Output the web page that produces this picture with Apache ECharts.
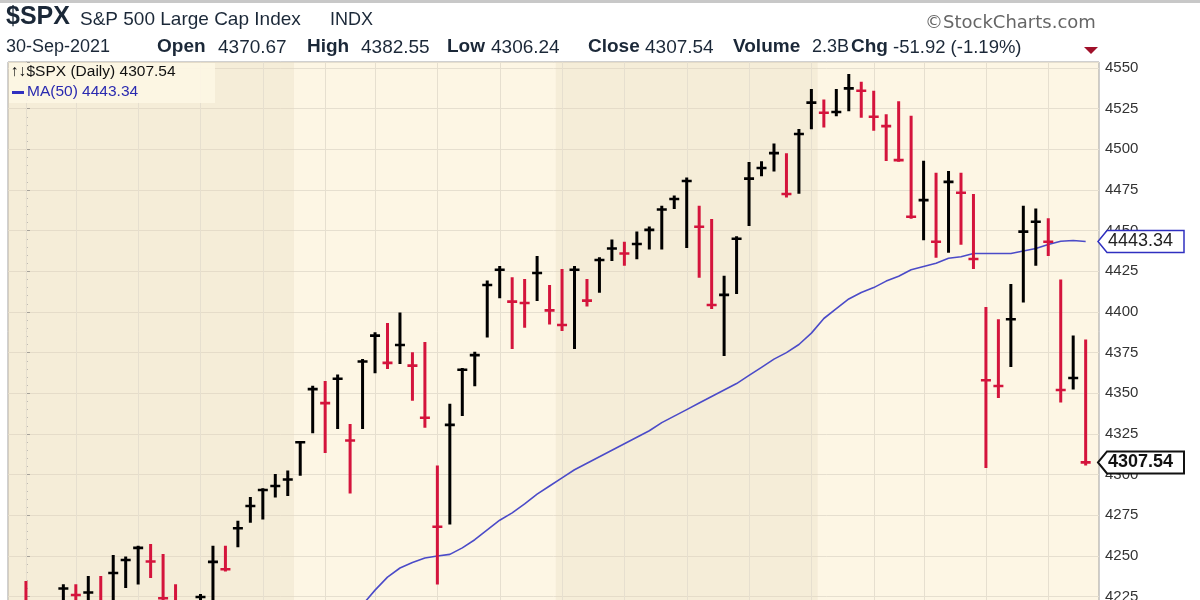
<!DOCTYPE html>
<html><head><meta charset="utf-8">
<script src="https://cdn.jsdelivr.net/npm/echarts@6/dist/echarts.min.js"></script>
<style>html,body{margin:0;padding:0;background:#fff}#c{width:1200px;height:600px}</style>
</head><body><div id="c"></div>
<script>
const dates = ['1-Jun','2-Jun','3-Jun','4-Jun','7-Jun','8-Jun','9-Jun','10-Jun','11-Jun','14-Jun','15-Jun','16-Jun','17-Jun','18-Jun','21-Jun','22-Jun','23-Jun','24-Jun','25-Jun','28-Jun','29-Jun','30-Jun',
'1-Jul','2-Jul','6-Jul','7-Jul','8-Jul','9-Jul','12-Jul','13-Jul','14-Jul','15-Jul','16-Jul','19-Jul','20-Jul','21-Jul','22-Jul','23-Jul','26-Jul','27-Jul','28-Jul','29-Jul','30-Jul',
'2-Aug','3-Aug','4-Aug','5-Aug','6-Aug','9-Aug','10-Aug','11-Aug','12-Aug','13-Aug','16-Aug','17-Aug','18-Aug','19-Aug','20-Aug','23-Aug','24-Aug','25-Aug','26-Aug','27-Aug','30-Aug','31-Aug',
'1-Sep','2-Sep','3-Sep','7-Sep','8-Sep','9-Sep','10-Sep','13-Sep','14-Sep','15-Sep','16-Sep','17-Sep','20-Sep','21-Sep','22-Sep','23-Sep','24-Sep','27-Sep','28-Sep','29-Sep','30-Sep'];
const highs = [4234,4217,4198,4232,4232,4237,4237,4250,4249,4255.7,4256.7,4250.6,4232,4204,4226,4255.7,4255.7,4271,4285.6,4291,4299.8,4302,
4320,4354,4357,4361,4330.5,4370.5,4387,4392.6,4399,4374.7,4381,4305,4343,4365,4375,4418.7,4427.6,4420.8,4419.7,4433.8,4416,
4425.8,4427.6,4419.7,4433,4444,4442.6,4448.8,4452,4464.7,4471,4482,4464.7,4456.6,4421.7,4446,4491.6,4492,4503,4497,4511.9,4536.5,4530,
4536.5,4545.7,4541,4535.4,4521,4529,4520,4492.4,4485,4486,4485,4472,4402.5,4395,4416.6,4464.7,4463,4457,4419.3,4385,4382.55];
const lows = [4197,4198,4173,4206,4215,4210,4218,4222,4231,4233,4237,4202,4196,4164,4174,4217,4241,4256,4271,4273,4286.5,4287.5,
4300,4326,4314,4328.7,4289,4328.7,4363,4365.6,4368.6,4346,4329.5,4233,4270,4336.7,4355,4385,4409,4377.8,4391,4407.4,4393,
4389,4377.8,4404,4412.5,4432,4429,4433,4439,4439,4464,4440,4421.7,4402.5,4373.6,4411.7,4453.5,4484,4487,4471,4473.3,4513,4514,
4521,4524,4520,4512,4493.4,4493,4458,4444.7,4434,4437,4442,4427,4304.7,4347.7,4366.8,4406.4,4429,4435,4345,4353,4306.24];
const closes = [4202,4208,4192,4230,4226,4227.5,4219.5,4239.5,4247.5,4255,4246.6,4224,4221.9,4166,4224.8,4246.4,4241.8,4267,4280.7,4290.6,4293,4297,
4319.9,4352.6,4344,4359,4321,4369.6,4385.5,4368.7,4379.7,4367,4335,4268,4330.6,4364.5,4373.5,4416.6,4426,4406.4,4405.5,4424,4401,
4392,4426,4407,4432,4439,4436,4441.8,4450.5,4463,4469.5,4480.5,4452.4,4404.3,4410.5,4445,4482,4488.5,4497.7,4472.5,4509.4,4528.7,4522.5,
4523,4537.5,4536,4520,4514.3,4493.4,4458.6,4468.8,4443.2,4480,4473.3,4432.6,4358,4354.5,4395.5,4449.4,4455.5,4443.2,4352,4359.4,4307.54];
const prevClose0 = 4204.1;
const ma50 = [null,null,null,null,null,null,null,null,null,null,null,null,null,null,null,null,null,null,null,null,null,null,
null,null,null,null,4216,4220,4229,4237,4242.6,4246,4248.8,4250,4251,4255,4260,4266,4272,4276.5,4282,4288,4293,
4298,4303,4307,4311,4315,4319,4323,4327,4332,4336,4340,4344,4348,4352,4356,4361,4366,4371,4375,4380,4387,4396,
4402,4408,4412,4415,4419,4422,4426,4428,4430,4433,4434,4436,4436,4436,4436,4437.5,4439,4441.5,4443.5,4444,4443.34];
const weekStarts = [0,4,9,14,19,24,28,33,38,43,48,53,58,63,68,72,77,82];
const monthsDark = [[-2,21.5],[42.5,63.5]];
const yTicks = {min:4200, max:4553.7, interval:25};

const N = dates.length;
const bars = dates.map((d,i)=>[i,highs[i],lows[i],closes[i],closes[i] < (i?closes[i-1]:prevClose0)?1:0]);

const chart = echarts.init(document.getElementById('c'));
chart.setOption({
  animation:false,
  backgroundColor:'#fff',
  grid:{left:8,right:101,top:62,height:575.3,outerBoundsMode:'none',containLabel:false,show:true,backgroundColor:'#fdf6e4',borderColor:'#a0a0a0',borderWidth:1},
  xAxis:{type:'value',min:-1.44,max:86.07,axisLabel:{show:false},axisTick:{show:false},axisLine:{show:false},splitLine:{show:false}},
  yAxis:{type:'value',position:'right',min:yTicks.min,max:yTicks.max,interval:yTicks.interval,
    axisLine:{show:true,lineStyle:{color:'#a0a0a0'}},
    axisTick:{show:true,length:4,lineStyle:{color:'#888'}},
    minorTick:{show:true,splitNumber:5,length:2,lineStyle:{color:'#aaa'}},
    axisLabel:{color:'#333',fontSize:15,fontFamily:'Liberation Sans',margin:6,showMaxLabel:false,
      formatter:v=> (v>4550?'':String(v))},
    splitLine:{show:true,lineStyle:{color:'#e6dfcf',width:1}}},
  series:[
    {type:'line',data:[],z:0,markArea:{silent:true,itemStyle:{color:'rgba(230,215,190,0.3)'},
      data:monthsDark.map(m=>[{xAxis:m[0]},{xAxis:m[1]}])}},
    {type:'custom',z:1,clip:true,silent:true,data:weekStarts.map(w=>[w]),encode:{x:0},
     renderItem:(params,api)=>{
       const p=api.coord([api.value(0),yTicks.max]);
       const cs=params.coordSys;
       return {type:'line',shape:{x1:Math.round(p[0])+0.5,y1:cs.y,x2:Math.round(p[0])+0.5,y2:cs.y+cs.height},style:{stroke:'#e6dfcf',lineWidth:1}};
     }},
    {type:'line',data:ma50.map((v,i)=>[i,v]),showSymbol:false,symbol:'none',clip:true,
     lineStyle:{color:'#4b4bc8',width:1.6},z:3},
    {type:'custom',clip:true,z:4,data:bars,encode:{x:0,y:[1,2,3]},
     renderItem:(params,api)=>{
       const x=api.value(0);
       const pH=api.coord([x,api.value(1)]), pL=api.coord([x,api.value(2)]), pC=api.coord([x,api.value(3)]);
       const col=api.value(4)?'#d4143c':'#000';
       return {type:'group',children:[
         {type:'rect',shape:{x:pH[0]-1.5,y:pH[1]-1,width:3,height:pL[1]-pH[1]+2},style:{fill:col}},
         {type:'rect',shape:{x:pC[0]-5,y:pC[1]-1.3,width:10,height:2.6},style:{fill:col}}
       ]};
     }}
  ]
});

const yMA = chart.convertToPixel({yAxisIndex:0}, ma50[N-1]);
const yC = chart.convertToPixel({yAxisIndex:0}, closes[N-1]);
const hdr='#1b2838';
const F='Liberation Sans';
const t=(x,y,s,fs,fw,col,ff)=>({type:'text',left:x,top:y,style:{text:s,font:`${fw||'normal'} ${fs}px ${ff||F}`,fill:col||hdr},z:10});
function badge(y,txt,border,bold){
  const x0=1098;
  return [{type:'polygon',shape:{points:[[x0,y],[x0+9,y-11],[x0+86,y-11],[x0+86,y+11],[x0+9,y+11]]},
    style:{fill:'#fff',stroke:border,lineWidth:bold?2:1.5},z:11},
    {type:'text',x:x0+10,y:y,style:{text:txt,font:`${bold?'bold':'normal'} 18px ${F}`,fill:bold?'#111':'#222',verticalAlign:'middle'},z:12}];
}
chart.setOption({graphic:[
  {type:'rect',shape:{x:0,y:0,width:1200,height:3},style:{fill:'#c8c8c8'}},
  t(6,5,'$SPX',25,'bold'),
  t(80,10,'S&P 500 Large Cap Index',19),
  t(330,11,'INDX',18),
  t(925,14,'©StockCharts.com',18,'normal','#666','DejaVu Sans'),
  t(6,38,'30-Sep-2021',18),
  t(157,37,'Open',19,'bold'), t(218,38,'4370.67',19),
  t(307,37,'High',19,'bold'), t(361,38,'4382.55',19),
  t(447,37,'Low',19,'bold'),  t(491,38,'4306.24',19),
  t(588,37,'Close',19,'bold'),t(645,38,'4307.54',19),
  t(733,37,'Volume',19,'bold'),t(812,38,'2.3B',18),
  t(851,37,'Chg',19,'bold'),  t(893,38,'-51.92 (-1.19%)',18.5),
  {type:'polygon',shape:{points:[[1084,47],[1098,47],[1091,54]]},style:{fill:'#a0102a'},z:10},
  {type:'rect',shape:{x:9,y:63,width:206,height:40},style:{fill:'rgba(253,246,228,0.9)'},z:9},
  t(11,64,'↑↓$SPX (Daily) 4307.54',15.5,'normal','#111'),
  {type:'rect',shape:{x:12,y:91,width:12,height:3},style:{fill:'#3030c0'},z:10},
  t(27,84,'MA(50) 4443.34',15.5,'normal','#2a2ab0'),
  ...badge(yMA,'4443.34','#3030c0',false),
  ...badge(yC,'4307.54','#111',true)
]});
</script></body></html>
